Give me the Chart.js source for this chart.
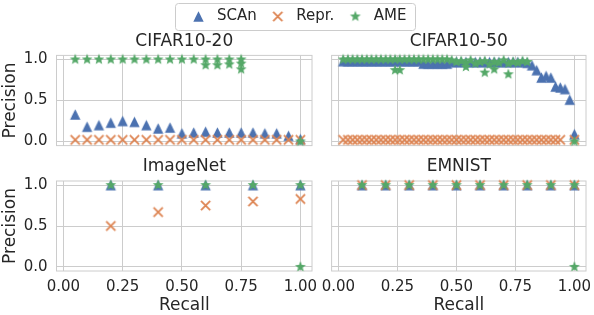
<!DOCTYPE html>
<html>
<head>
<meta charset="utf-8">
<script src="https://cdn.jsdelivr.net/npm/chart.js@4"></script>
<style>
body { margin: 0; background: #fff; }
#fig { position: relative; width: 594px; height: 315px; overflow: hidden; background: #fff; }
#fig canvas { position: absolute; }
</style>
</head>
<body>
<div id="fig">
<canvas id="cifar20-viz" width="320" height="130" style="left:0px;top:22px"></canvas>
<canvas id="cifar50-viz" width="274" height="130" style="left:320px;top:22px"></canvas>
<canvas id="imagenet-viz" width="320" height="170" style="left:0px;top:147px"></canvas>
<canvas id="emnist-viz" width="274" height="170" style="left:320px;top:147px"></canvas>
<canvas id="legend-viz" width="594" height="80" style="left:0px;top:-1px"></canvas>
</div>
<script>
// Precision vs. recall, four datasets, three methods

var x_ticks = [0, 0.25, 0.5, 0.75, 1.0];
var y_ticks = [0, 0.5, 1.0];

// CIFAR10-20
var c20_recall = [0.05, 0.10, 0.15, 0.20, 0.25, 0.30, 0.35, 0.40, 0.45, 0.50,
                  0.55, 0.60, 0.65, 0.70, 0.75, 0.80, 0.85, 0.90, 0.95, 1.00];
var c20_scan   = [0.33, 0.18, 0.20, 0.23, 0.25, 0.24, 0.20, 0.16, 0.17, 0.10,
                  0.11, 0.12, 0.11, 0.11, 0.11, 0.11, 0.10, 0.10, 0.07, 0.03];
var c20_repr   = [0.02, 0.02, 0.02, 0.02, 0.02, 0.02, 0.02, 0.02, 0.02, 0.02,
                  0.02, 0.02, 0.02, 0.02, 0.02, 0.02, 0.02, 0.02, 0.02, 0.02];
var c20_ame    = [1.00, 1.00, 1.00, 1.00, 1.00, 1.00, 1.00, 1.00, 1.00, 1.00,
                  1.00, 1.00, 1.00, 1.00, 1.00, null, null, null, null, 0.00];
var c20_ame_extra_recall = [0.60, 0.65, 0.70, 0.75, 0.75];
var c20_ame_extra        = [0.93, 0.93, 0.94, 0.95, 0.88];

// CIFAR10-50
var c50_recall = [0.02, 0.04, 0.06, 0.08, 0.10, 0.12, 0.14, 0.16, 0.18, 0.20,
                  0.22, 0.24, 0.26, 0.28, 0.30, 0.32, 0.34, 0.36, 0.38, 0.40,
                  0.42, 0.44, 0.46, 0.48, 0.50, 0.52, 0.54, 0.56, 0.58, 0.60,
                  0.62, 0.64, 0.66, 0.68, 0.70, 0.72, 0.74, 0.76, 0.78, 0.80,
                  0.82, 0.84, 0.86, 0.88, 0.90, 0.92, 0.94, 0.96, 0.98, 1.00];
var c50_scan   = [0.98, 0.98, 0.98, 0.98, 0.98, 0.98, 0.98, 0.98, 0.98, 0.98,
                  0.98, 0.98, 0.98, 0.98, 0.98, 0.98, 0.98, 0.95, 0.95, 0.95,
                  0.95, 0.95, 0.95, 0.97, 0.97, 0.97, 0.97, 0.97, 0.97, 0.97,
                  0.97, 0.97, 0.97, 0.97, 0.97, 0.97, 0.97, 0.97, 0.97, 0.96,
                  0.93, 0.87, 0.78, 0.80, 0.78, 0.67, 0.66, 0.64, 0.51, 0.09];
var c50_repr   = [0.02, 0.02, 0.02, 0.02, 0.02, 0.02, 0.02, 0.02, 0.02, 0.02,
                  0.02, 0.02, 0.02, 0.02, 0.02, 0.02, 0.02, 0.02, 0.02, 0.02,
                  0.02, 0.02, 0.02, 0.02, 0.02, 0.02, 0.02, 0.02, 0.02, 0.02,
                  0.02, 0.02, 0.02, 0.02, 0.02, 0.02, 0.02, 0.02, 0.02, 0.02,
                  0.02, 0.02, 0.02, 0.02, 0.02, 0.02, 0.02, null, null, 0.02];
var c50_ame    = [1.00, 1.00, 1.00, 1.00, 1.00, 1.00, 1.00, 1.00, 1.00, 1.00,
                  1.00, 1.00, 1.00, 1.00, 1.00, 1.00, 1.00, 1.00, 1.00, 1.00,
                  1.00, 1.00, 1.00, 0.99, 0.97, 0.98, 0.96, 0.99, 0.95, 0.97,
                  0.98, 0.94, 0.97, 0.96, 0.99, 0.95, 0.97, 0.96, 0.98, 0.97,
                  null, null, null, null, null, null, null, null, null, 0.00];
var c50_ame_extra_recall = [0.24, 0.26, 0.54, 0.62, 0.66, 0.72];
var c50_ame_extra        = [0.87, 0.87, 0.91, 0.84, 0.88, 0.82];

// ImageNet
var inet_recall = [0.2, 0.4, 0.6, 0.8, 1.0];
var inet_scan   = [1.00, 1.00, 1.00, 1.00, 1.00];
var inet_repr   = [0.50, 0.67, 0.75, 0.80, 0.83];
var inet_ame    = [1.00, 1.00, 1.00, 1.00, 1.00];
var inet_ame_extra_recall = [1.0];
var inet_ame_extra        = [0.00];

// EMNIST
var emn_recall = [0.1, 0.2, 0.3, 0.4, 0.5, 0.6, 0.7, 0.8, 0.9, 1.0];
var emn_scan   = [1.00, 1.00, 1.00, 1.00, 1.00, 1.00, 1.00, 1.00, 1.00, 1.00];
var emn_repr   = [1.00, 1.00, 1.00, 1.00, 1.00, 1.00, 1.00, 1.00, 1.00, 1.00];
var emn_ame    = [1.00, 1.00, 1.00, 1.00, 1.00, 1.00, 1.00, 1.00, 1.00, 1.00];
var emn_ame_extra_recall = [1.0];
var emn_ame_extra        = [0.00];

var FONT = 'DejaVu Sans';
var TEXT = '#262626';
var GRID = '#cccccc';
var BLUE = '#4C72B0';
var ORANGE = '#DD8452';
var GREEN = '#55A868';

Chart.defaults.font.family = FONT;
Chart.defaults.color = TEXT;

// matplotlib-like markers drawn onto little canvases
function make_triangle(color, h) {
	var s = Math.ceil(h * 2) + 2;
	var c = document.createElement('canvas');
	c.width = s; c.height = s;
	var ctx = c.getContext('2d');
	ctx.fillStyle = color;
	ctx.beginPath();
	ctx.moveTo(s / 2, s / 2 - h);
	ctx.lineTo(s / 2 - h, s / 2 + h);
	ctx.lineTo(s / 2 + h, s / 2 + h);
	ctx.closePath();
	ctx.fill();
	return c;
}

function make_cross(color, h, lw) {
	var s = Math.ceil(h * 2) + 3;
	var c = document.createElement('canvas');
	c.width = s; c.height = s;
	var ctx = c.getContext('2d');
	ctx.strokeStyle = color;
	ctx.lineWidth = lw;
	ctx.beginPath();
	ctx.moveTo(s / 2 - h, s / 2 - h); ctx.lineTo(s / 2 + h, s / 2 + h);
	ctx.moveTo(s / 2 + h, s / 2 - h); ctx.lineTo(s / 2 - h, s / 2 + h);
	ctx.stroke();
	return c;
}

function make_star(color, r) {
	var s = Math.ceil(r * 2) + 2;
	var c = document.createElement('canvas');
	c.width = s; c.height = s;
	var ctx = c.getContext('2d');
	ctx.fillStyle = color;
	ctx.beginPath();
	for (var i = 0; i < 10; i++) {
		var rad = (i % 2 == 0) ? r : r * 0.42;
		var a = -Math.PI / 2 + i * Math.PI / 5;
		var px = s / 2 + rad * Math.cos(a);
		var py = s / 2 + rad * Math.sin(a);
		if (i == 0) ctx.moveTo(px, py); else ctx.lineTo(px, py);
	}
	ctx.closePath();
	ctx.fill();
	return c;
}

var tri_marker = make_triangle(BLUE, 5.2);
var x_marker = make_cross(ORANGE, 4.6, 1.8);
var star_marker = make_star(GREEN, 5.7);

function to_points(xs, ys) {
	var pts = [];
	for (var i = 0; i < xs.length; i++) {
		if (ys[i] !== null) pts.push({ x: xs[i], y: ys[i] });
	}
	return pts;
}

function make_datasets(xs, scan, repr, ame, ame_x2, ame_y2) {
	return [
		{ label: 'SCAn', data: to_points(xs, scan), pointStyle: tri_marker, order: 2, clip: false },
		{ label: 'Repr.', data: to_points(xs, repr), pointStyle: x_marker, order: 1, clip: false },
		{ label: 'AME', data: to_points(xs, ame).concat(to_points(ame_x2, ame_y2)), pointStyle: star_marker, order: 0, clip: false }
	];
}

// strokes the four spines
var frame_plugin = {
	id: 'frame',
	beforeDatasetsDraw: function(chart) {
		var a = chart.chartArea, ctx = chart.ctx;
		ctx.save();
		ctx.strokeStyle = GRID;
		ctx.lineWidth = 1;
		ctx.strokeRect(a.left, a.top, a.right - a.left, a.bottom - a.top);
		ctx.restore();
	}
};

function generate_panel_viz(canvas_id, chart_title, datasets, show_ylabels, show_xlabels) {
	var yAxis_width = show_ylabels ? 56.5 : 11.6;
	var xAxis_height = show_xlabels ? 46 : 0;
	var cfg = {
		type: 'scatter',
		data: { datasets: datasets },
		options: {
			responsive: false,
			animation: false,
			devicePixelRatio: 1,
			layout: { padding: { top: 9.8, right: 8, bottom: show_xlabels ? 0 : 6.4, left: 0 } },
			plugins: {
				legend: { display: false },
				tooltip: { enabled: false },
				title: { display: true, text: chart_title, fullSize: false, color: TEXT,
				         font: { family: FONT, size: 17, weight: 'normal' },
				         padding: { top: 0, bottom: show_xlabels ? 3.8 : 3.2 } }
			},
			scales: {
				x: {
					type: 'linear', min: -0.029, max: 1.049,
					afterBuildTicks: function(axis) { axis.ticks = x_ticks.map(function(v) { return { value: v }; }); },
					afterFit: function(axis) { axis.height = xAxis_height; axis.paddingLeft = 0; axis.paddingRight = 0; axis.paddingTop = 0; axis.paddingBottom = 0; },
					grid: { color: GRID, lineWidth: 1, drawTicks: false },
					border: { display: false },
					ticks: { display: show_xlabels, autoSkip: false, maxRotation: 0, padding: 7, color: TEXT,
					         font: { family: FONT, size: 15 },
					         callback: function(v) { return v.toFixed(2); } },
					title: { display: show_xlabels, text: 'Recall', color: TEXT,
					         font: { family: FONT, size: 17 }, padding: { top: 0, bottom: 1 } }
				},
				y: {
					type: 'linear', min: -0.05, max: 1.05,
					afterBuildTicks: function(axis) { axis.ticks = y_ticks.map(function(v) { return { value: v }; }); },
					afterFit: function(axis) { axis.width = yAxis_width; axis.paddingLeft = 0; axis.paddingRight = 0; axis.paddingTop = 0; axis.paddingBottom = 0; },
					grid: { color: GRID, lineWidth: 1, drawTicks: false },
					border: { display: false },
					ticks: { display: show_ylabels, padding: 9, color: TEXT,
					         font: { family: FONT, size: 15 },
					         callback: function(v) { return v.toFixed(1); } },
					title: { display: show_ylabels, text: 'Precision', color: TEXT,
					         font: { family: FONT, size: 17 }, padding: { top: 0, bottom: 0 } }
				}
			}
		},
		plugins: [frame_plugin]
	};
	new Chart(document.getElementById(canvas_id), cfg);
} // generate_panel_viz

// rounded frame around the legend entries
var legend_box_plugin = {
	id: 'legendBox',
	afterDraw: function(chart) {
		var hb = chart.legend.legendHitBoxes;
		if (!hb || !hb.length) return;
		var first = hb[0], last = hb[hb.length - 1];
		var x0 = first.left - 12, x1 = last.left + last.width + 9;
		var yc = first.top + first.height / 2;
		var ctx = chart.ctx;
		ctx.save();
		ctx.strokeStyle = GRID;
		ctx.lineWidth = 1;
		ctx.beginPath();
		ctx.roundRect(Math.round(x0) + 0.5, Math.round(yc - 13.5) + 0.5, Math.round(x1 - x0), 27, 3);
		ctx.stroke();
		ctx.restore();
	}
};

function generate_legend_viz(canvas_id) {
	var cfg = {
		type: 'scatter',
		data: { datasets: [
			{ label: 'SCAn', data: [], pointStyle: tri_marker },
			{ label: 'Repr.', data: [], pointStyle: x_marker },
			{ label: 'AME', data: [], pointStyle: star_marker }
		] },
		options: {
			responsive: false,
			animation: false,
			devicePixelRatio: 1,
			scales: { x: { display: false }, y: { display: false } },
			plugins: {
				tooltip: { enabled: false },
				legend: { display: true, position: 'top',
				          labels: { usePointStyle: true, pointStyleWidth: 22, boxHeight: 9, padding: 10,
				                    color: TEXT, font: { family: FONT, size: 15 } } }
			}
		},
		plugins: [legend_box_plugin]
	};
	new Chart(document.getElementById(canvas_id), cfg);
} // generate_legend_viz

generate_panel_viz('cifar20-viz', 'CIFAR10-20',
	make_datasets(c20_recall, c20_scan, c20_repr, c20_ame, c20_ame_extra_recall, c20_ame_extra), true, false);
generate_panel_viz('cifar50-viz', 'CIFAR10-50',
	make_datasets(c50_recall, c50_scan, c50_repr, c50_ame, c50_ame_extra_recall, c50_ame_extra), false, false);
generate_panel_viz('imagenet-viz', 'ImageNet',
	make_datasets(inet_recall, inet_scan, inet_repr, inet_ame, inet_ame_extra_recall, inet_ame_extra), true, true);
generate_panel_viz('emnist-viz', 'EMNIST',
	make_datasets(emn_recall, emn_scan, emn_repr, emn_ame, emn_ame_extra_recall, emn_ame_extra), false, true);
generate_legend_viz('legend-viz');
</script>
</body>
</html>
